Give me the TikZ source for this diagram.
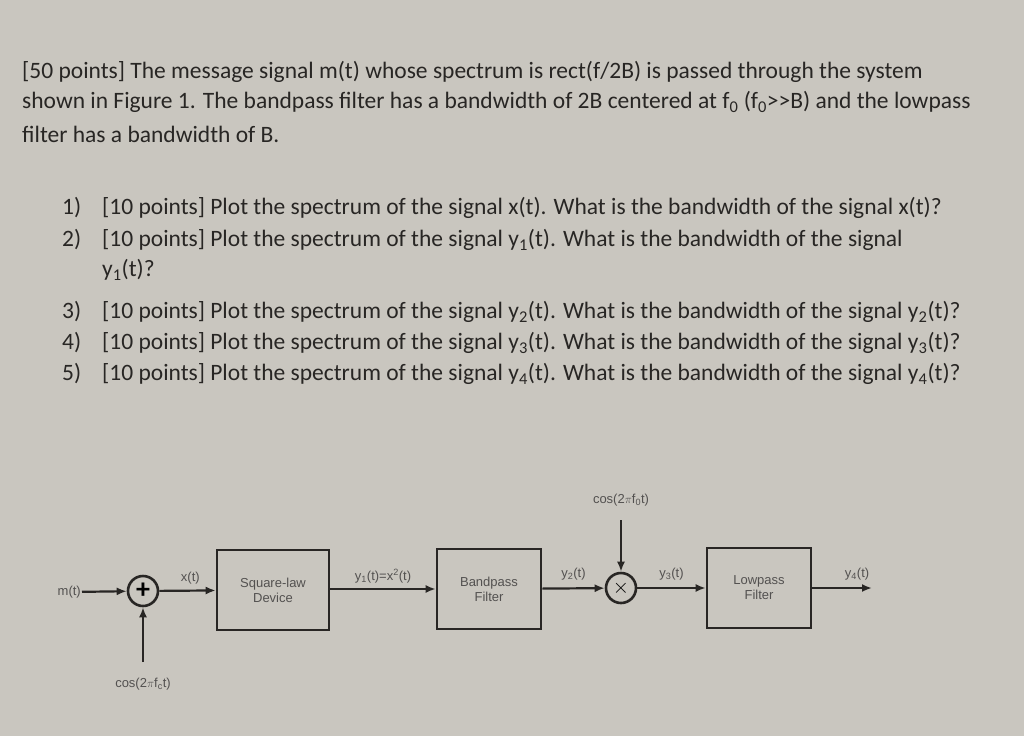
\documentclass[tikz,border=0pt]{standalone}
\usepackage{fontspec}
\setmainfont{Carlito}
\newfontfamily\diagfont{Liberation Sans}
\usetikzlibrary{arrows.meta}
\definecolor{paper}{RGB}{201,198,191}
\definecolor{ink}{RGB}{40,38,36}
\tikzset{
  txt/.style={anchor=west,inner sep=0pt,text=ink,font=\fontsize{23.5}{27}\selectfont},
  blk/.style={draw=ink,line width=2.6pt,minimum width=112pt,minimum height=80pt,align=center,font=\diagfont\fontsize{13}{15}\selectfont,text=ink!80},
  lbl/.style={font=\diagfont\fontsize{13}{15}\selectfont,text=ink!80,inner sep=1pt},
  op/.style={draw=ink,line width=2.6pt,circle,minimum size=30pt,inner sep=0pt,font=\bfseries\fontsize{28}{28}\selectfont},
  con/.style={draw=ink,line width=2.2pt,-{Latex[length=10pt,width=8pt]}}
}
\begin{document}
\begin{tikzpicture}[x=1pt,y=-1pt]
\fill[paper] (0,0) rectangle (1024,736);
\node[txt] (p1) at (22,72) {[50 points] The message signal m(t) whose spectrum is rect(f/2B) is passed through the system};
\node[txt] (p2) at (22,102) {shown in Figure 1. The bandpass filter has a bandwidth of 2B centered at f\textsubscript{0} (f\textsubscript{0}>{}>B) and the lowpass};
\node[txt] (p3) at (22,134) {filter has a bandwidth of B.};
\node[txt] (n1) at (62,208) {1)};
\node[txt] (q1) at (102,208) {[10 points] Plot the spectrum of the signal x(t). What is the bandwidth of the signal x(t)?};
\node[txt] (n2) at (62,240) {2)};
\node[txt] (q2) at (102,240) {[10 points] Plot the spectrum of the signal y\textsubscript{1}(t). What is the bandwidth of the signal};
\node[txt] (q2b) at (102,270) {y\textsubscript{1}(t)?};
\node[txt] (n3) at (62,312) {3)};
\node[txt] (q3) at (102,312) {[10 points] Plot the spectrum of the signal y\textsubscript{2}(t). What is the bandwidth of the signal y\textsubscript{2}(t)?};
\node[txt] (n4) at (62,343) {4)};
\node[txt] (q4) at (102,343) {[10 points] Plot the spectrum of the signal y\textsubscript{3}(t). What is the bandwidth of the signal y\textsubscript{3}(t)?};
\node[txt] (n5) at (62,374) {5)};
\node[txt] (q5) at (102,374) {[10 points] Plot the spectrum of the signal y\textsubscript{4}(t). What is the bandwidth of the signal y\textsubscript{4}(t)?};

% diagram
\node[lbl,anchor=east] (m) at (82,592) {m(t)};
\node[op] (sum) at (143,591) {+};
\node[blk] (sq) at (273,590) {Square-law\\Device};
\node[blk,minimum width=104pt] (bp) at (489,589) {Bandpass\\Filter};
\node[op,font=\bfseries\fontsize{22}{22}\selectfont] (mul) at (621,588) {$\times$};
\node[blk,minimum width=104pt] (lp) at (759,588) {Lowpass\\Filter};
\coordinate (out) at (872,588);
\node[lbl] (cb) at (143,684) {cos(2$\pi$f\textsubscript{c}t)};
\node[lbl] (ct) at (621,500) {cos(2$\pi$f\textsubscript{0}t)};
\coordinate (ctop) at (621,520);
\coordinate (cbot) at (143,662);

\draw[con] (m) -- (sum);
\draw[con] (sum) -- node[lbl,above=4pt,pos=0.55] (lx) {x(t)} (sq);
\draw[con] (cbot) -- (sum);
\draw[con] (sq.east|-bp) -- node[lbl,above=4pt] (ly1) {y\textsubscript{1}(t)=x\textsuperscript{2}(t)} (bp);
\draw[con] (bp) -- node[lbl,above=6pt] (ly2) {y\textsubscript{2}(t)} (mul);
\draw[con] (ctop) -- (mul);
\draw[con] (mul) -- node[lbl,above=6pt] (ly3) {y\textsubscript{3}(t)} (lp);
\draw[con] (lp) -- node[lbl,above=6pt,pos=0.75] (ly4) {y\textsubscript{4}(t)} (out);
\end{tikzpicture}
\end{document}
